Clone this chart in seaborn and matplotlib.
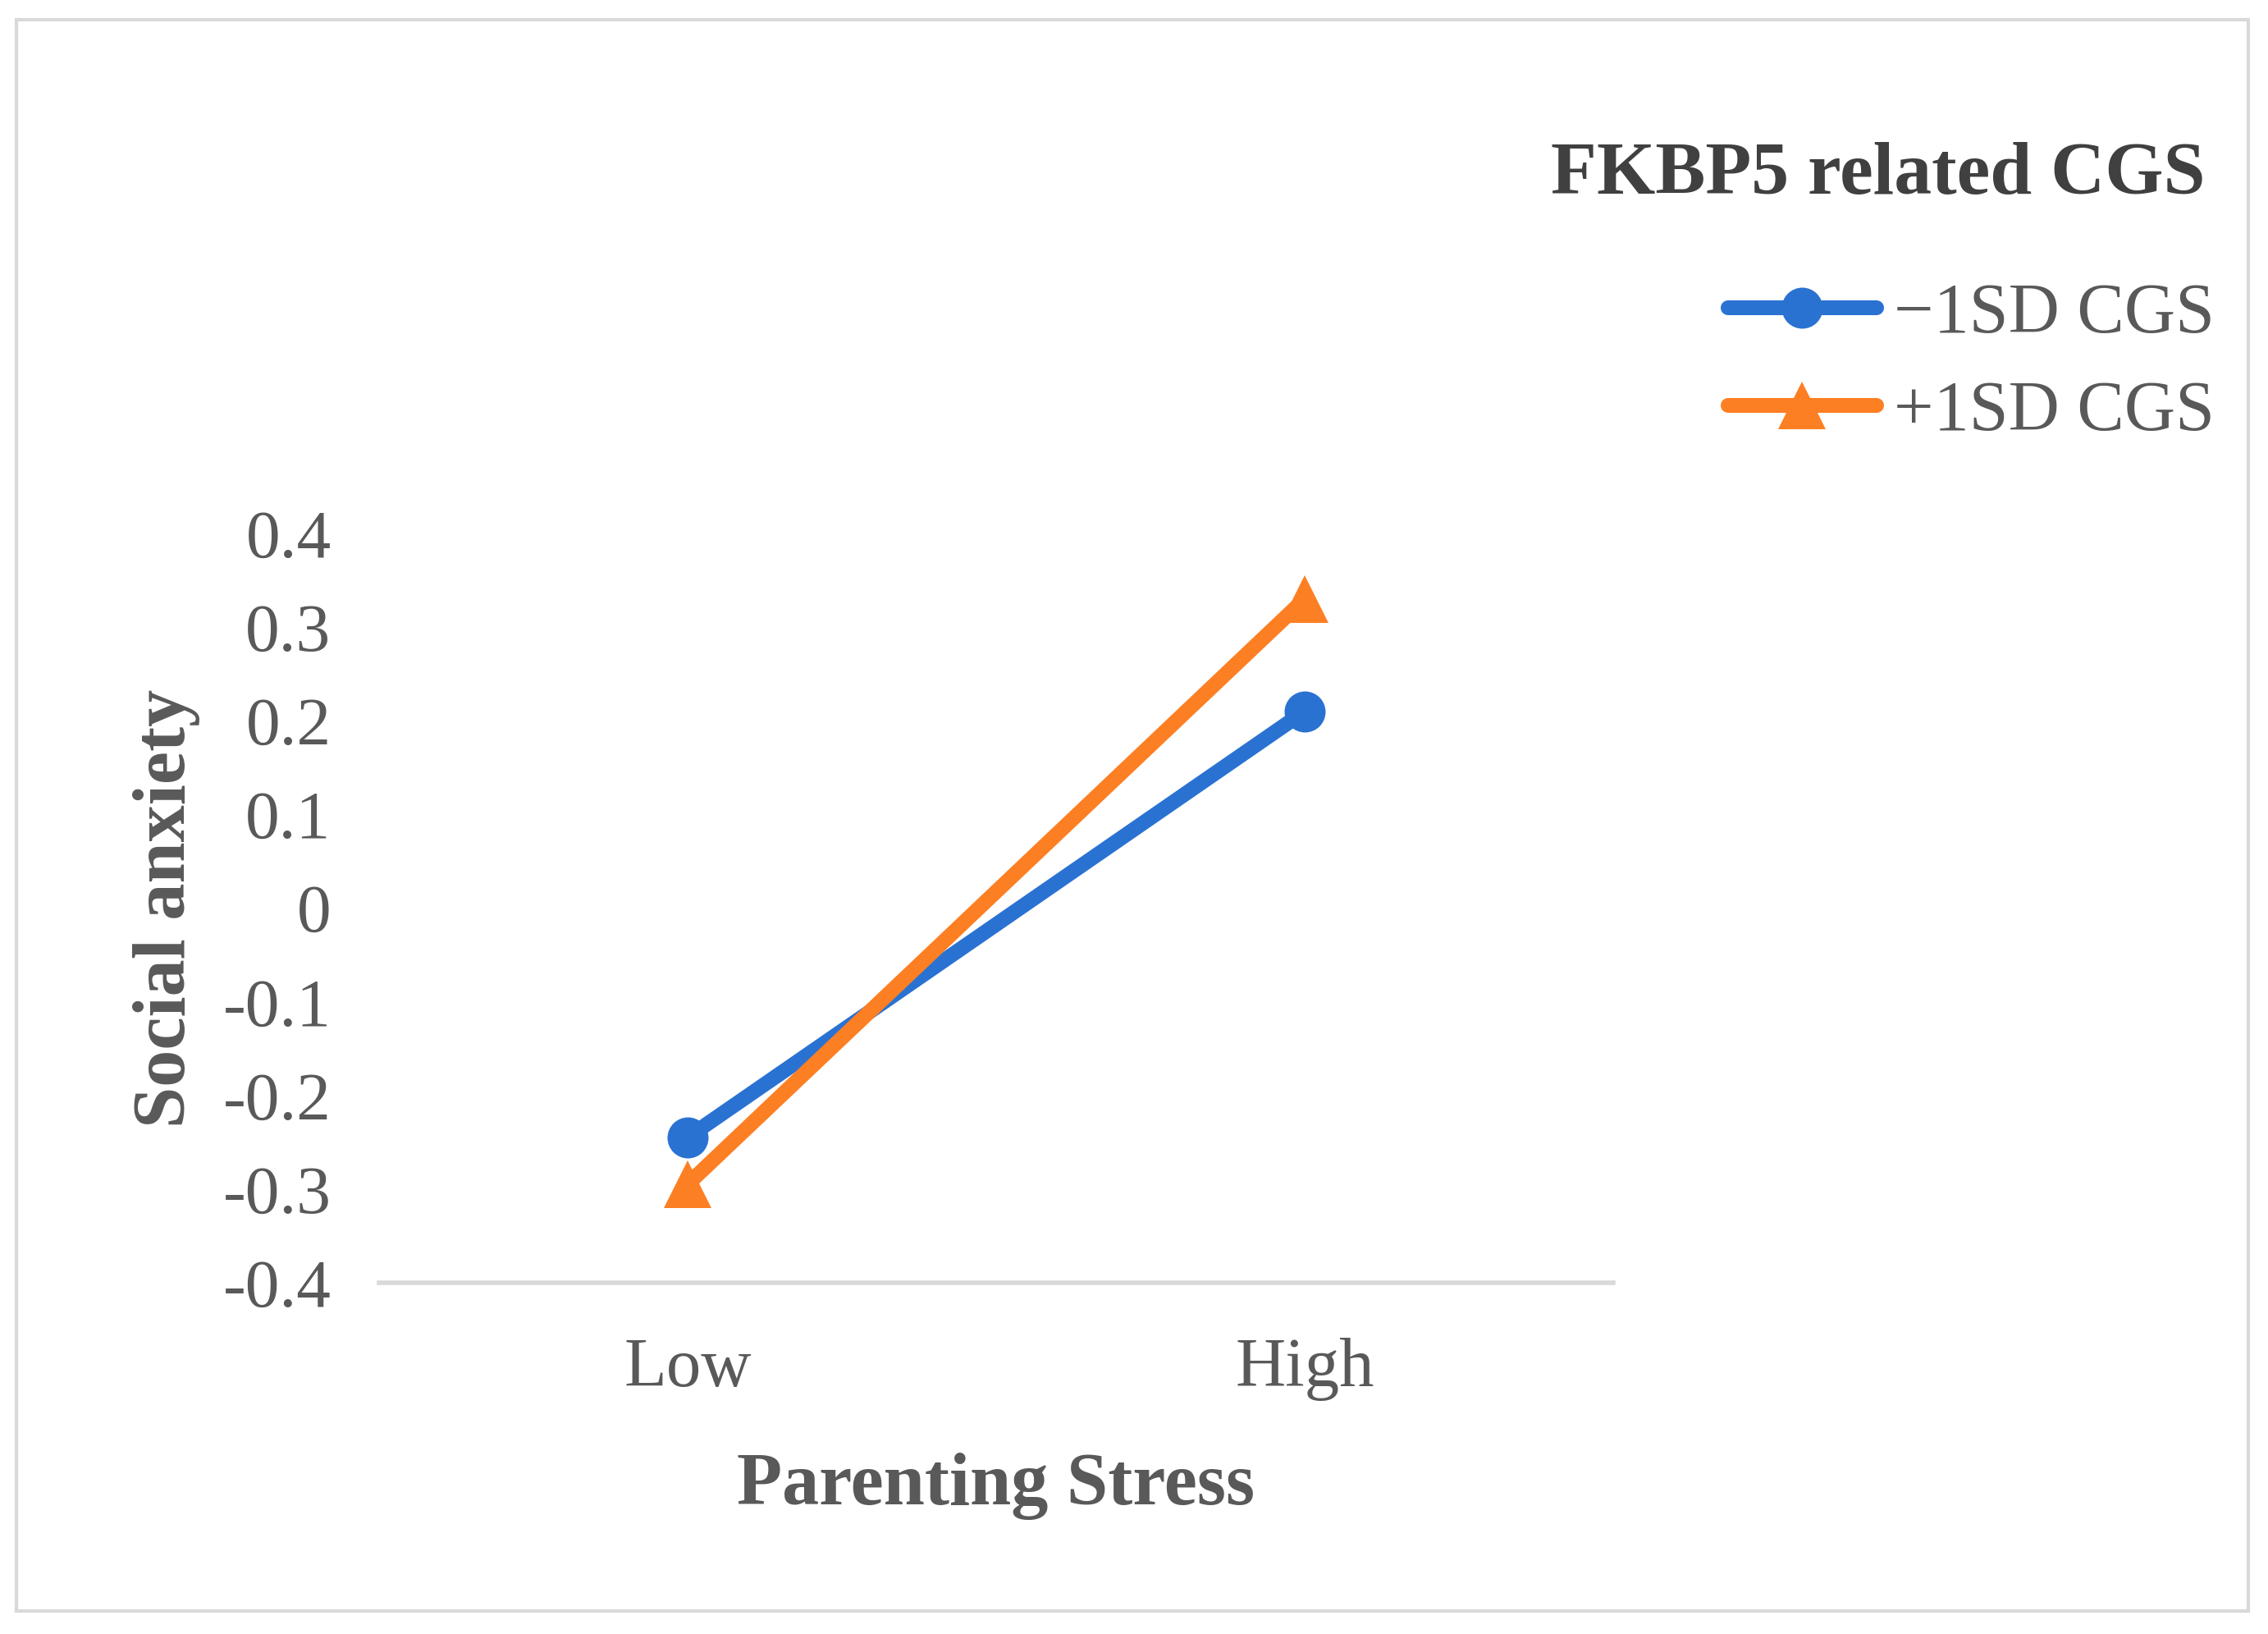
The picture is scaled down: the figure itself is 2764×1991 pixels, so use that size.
import pandas as pd
import matplotlib.pyplot as plt
import seaborn as sns
from matplotlib.patches import Rectangle

# data
stress_levels = ['Low', 'High']
minus_sd_cgs = [-0.245, 0.21]
plus_sd_cgs = [-0.295, 0.33]
series_names = ['\u22121SD CGS', '+1SD CGS']
yticks = [-0.4, -0.3, -0.2, -0.1, 0, 0.1, 0.2, 0.3, 0.4]
ytick_labels = ['-0.4', '-0.3', '-0.2', '-0.1', '0', '0.1', '0.2', '0.3', '0.4']

df = pd.DataFrame({
    'stress': stress_levels * 2,
    'anxiety': minus_sd_cgs + plus_sd_cgs,
    'group': [series_names[0]] * 2 + [series_names[1]] * 2,
})

sns.set_style('white')
plt.rcParams['font.family'] = ['Liberation Serif', 'DejaVu Serif']

blue = '#2a72d2'
orange = '#fd7f23'
grey_txt = '#595959'

fig = plt.figure(figsize=(13.82, 9.955), dpi=200)
ax = fig.add_axes([0.1671, 0.2150, 0.7113 - 0.1671, 0.6735 - 0.2150])

sns.lineplot(data=df, x='stress', y='anxiety', hue='group', style='group',
             palette=[blue, orange], markers=['o', '^'], dashes=False,
             linewidth=6.5, markeredgewidth=0, sort=False, legend=False, ax=ax)
ax.lines[0].set_markersize(18)
ax.lines[1].set_markersize(21)

ax.set_xlim(-0.5, 1.5)
ax.set_ylim(-0.4, 0.4)
ax.set_yticks(yticks)
ax.set_yticklabels(ytick_labels)
ax.tick_params(axis='y', length=0, pad=21, labelsize=30, labelcolor=grey_txt)
ax.tick_params(axis='x', length=0, pad=24, labelsize=30.5, labelcolor=grey_txt)
for s in ['top', 'right', 'left']:
    ax.spines[s].set_visible(False)
ax.spines['bottom'].set_color('#d9d9d9')
ax.spines['bottom'].set_linewidth(2)
ax.set_xlabel('Parenting Stress', fontsize=32.5, fontweight='bold', color=grey_txt, labelpad=23)
ax.set_ylabel('Social anxiety', fontsize=32.5, fontweight='bold', color=grey_txt, labelpad=10)

fig.text(0.9725, 1 - 214 / 1991, 'FKBP5 related CGS', ha='right', va='center',
         fontsize=33, fontweight='bold', color='#404040')
fig.legend(handles=ax.lines[:2], labels=series_names, loc='upper right',
           bbox_to_anchor=(0.9765, 0.827), frameon=False, fontsize=31,
           handlelength=2.1, handletextpad=0.25, labelspacing=0.46,
           borderpad=0, borderaxespad=0, labelcolor=grey_txt)

fig.add_artist(Rectangle((20 / 2764, 1 - 1963 / 1991), (2740 - 20) / 2764,
                         (1963 - 24) / 1991, transform=fig.transFigure,
                         fill=False, edgecolor='#d9d9d9', linewidth=1.5))

plt.savefig('out.png', dpi=200)
